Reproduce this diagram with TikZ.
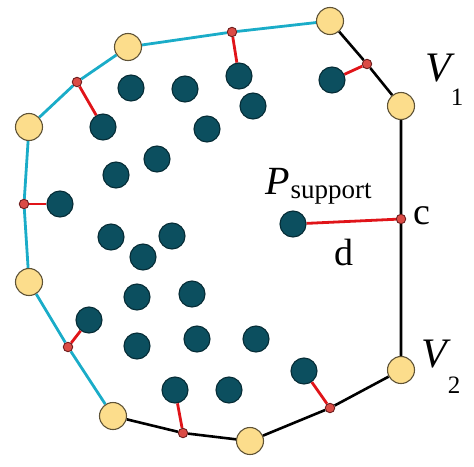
\documentclass[tikz,border=0pt]{standalone}
\usepackage{fontspec}
\setmainfont{Liberation Serif}
\usetikzlibrary{backgrounds}
\definecolor{hullfill}{HTML}{FCDD8C}
\definecolor{hulldraw}{HTML}{5E5236}
\definecolor{datafill}{HTML}{0C4F5F}
\definecolor{datadraw}{HTML}{062C36}
\definecolor{hullcyan}{HTML}{1AACC8}
\definecolor{supred}{HTML}{E01419}
\definecolor{dotred}{HTML}{DB4B45}
\definecolor{dotdraw}{HTML}{6E1E1E}
\tikzset{
  hullpt/.style={circle, fill=hullfill, draw=hulldraw, line width=1.1pt, minimum size=27pt, inner sep=0pt},
  datapt/.style={circle, fill=datafill, draw=datadraw, line width=1.1pt, minimum size=26pt, inner sep=0pt},
  contact/.style={circle, fill=dotred, draw=dotdraw, line width=0.9pt, minimum size=9.5pt, inner sep=0pt},
  cline/.style={draw=hullcyan, line width=2.8pt},
  bline/.style={draw=black, line width=2.6pt},
  rline/.style={draw=supred, line width=2.8pt},
  lbl/.style={inner sep=0pt, anchor=base west, font=\fontsize{42}{42}\selectfont},
  sublbl/.style={inner sep=0pt, anchor=base west, font=\fontsize{38}{38}\selectfont}
}

\begin{document}
\begin{tikzpicture}[x=1pt, y=-1pt]
  \useasboundingbox (0,0) rectangle (474,466);

  % hull vertices
  \node[hullpt] (vT)  at (330,21)  {};
  \node[hullpt] (V1)  at (401,106) {};
  \node[hullpt] (V2)  at (401,370) {};
  \node[hullpt] (vB)  at (250,441) {};
  \node[hullpt] (vBL) at (113,416) {};
  \node[hullpt] (vLL) at (29,282)  {};
  \node[hullpt] (vLU) at (29,127)  {};
  \node[hullpt] (vTL) at (128,47)  {};

  % data points
  \foreach \x/\y [count=\i] in {131/88, 185/89, 239/76, 253/106, 332/80, 103/127,
      207/129, 157/159, 116/175, 60/204, 111/237, 172/236, 143/257, 137/297,
      192/294, 89/320, 137/346, 197/339, 256/339, 304/371, 175/390, 229/390}
    \node[datapt] (p\i) at (\x,\y) {};
  \node[datapt] (P) at (293,224) {};

  % contact points on the hull
  \node[contact] (sT)  at (232,32)  {};
  \node[contact] (sR)  at (367,64)  {};
  \node[contact] (sLU) at (77,82)   {};
  \node[contact] (sL)  at (24,204)  {};
  \node[contact] (c)   at (401,219) {};
  \node[contact] (sLL) at (68,347)  {};
  \node[contact] (sB)  at (183,433) {};
  \node[contact] (sBR) at (330,408) {};

  \begin{scope}[on background layer]
    \draw[cline] (vT) -- (sT) -- (vTL) -- (sLU) -- (vLU) -- (sL) -- (vLL) -- (sLL) -- (vBL);
    \draw[bline] (vBL) -- (sB) -- (vB) -- (sBR) -- (V2) -- (c) -- (V1) -- (sR) -- (vT);
    \draw[rline] (sT) -- (p3);
    \draw[rline] (sR) -- (p5);
    \draw[rline] (sLU) -- (p6);
    \draw[rline] (sL) -- (p10);
    \draw[rline] (c) -- (P);
    \draw[rline] (sLL) -- (p16);
    \draw[rline] (sB) -- (p21);
    \draw[rline] (sBR) -- (p20);
  \end{scope}

  % labels
  \node[lbl] (lV1) at (425,81) {\textit{V}\kern-4pt\raisebox{-24pt}{\fontsize{25}{25}\selectfont 1}};
  \node[lbl] (lV2) at (421,367) {\textit{V}\kern-3pt\raisebox{-26pt}{\fontsize{25}{25}\selectfont 2}};
  \node[lbl, font=\fontsize{40}{40}\selectfont] (lP) at (265,194) {\textit{P}\kern1pt\raisebox{-4pt}{\fontsize{27}{27}\selectfont support}};
  \node[sublbl] (lc) at (413,224) {c};
  \node[sublbl] (ld) at (334,265) {d};
\end{tikzpicture}
\end{document}
